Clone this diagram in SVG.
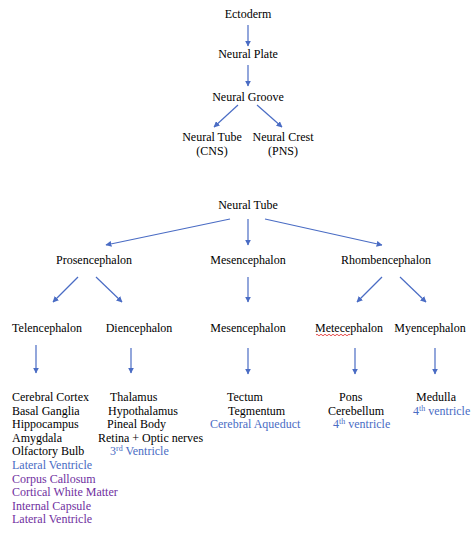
<svg xmlns="http://www.w3.org/2000/svg" width="474" height="535" viewBox="0 0 474 535">
<style>
text{font-family:"Liberation Serif","Times New Roman",serif;font-size:12px;fill:#000}
.c{text-anchor:middle}
.b{fill:#4a6cc4}
.p{fill:#7030a0}
.ar line{stroke:#4a6cc4;stroke-width:1.2;marker-end:url(#ah)}
</style>
<defs>
<marker id="ah" viewBox="0 0 10 10" refX="9" refY="5" markerWidth="6" markerHeight="6" orient="auto" markerUnits="userSpaceOnUse">
<path d="M0,0 L10,5 L0,10 z" fill="#4a6cc4"/>
</marker>
</defs>
<rect width="474" height="535" fill="#fff"/>
<g id="connectors" class="ar">
<line x1="248" y1="25" x2="248" y2="46"/>
<line x1="248" y1="65" x2="248" y2="86"/>
<line x1="238" y1="105" x2="214" y2="127"/>
<line x1="257" y1="105" x2="282" y2="127"/>
<line x1="230" y1="219" x2="106" y2="245"/>
<line x1="248" y1="219" x2="248" y2="245"/>
<line x1="265" y1="219" x2="382" y2="245"/>
<line x1="78" y1="277" x2="53" y2="302"/>
<line x1="96" y1="277" x2="122" y2="302"/>
<line x1="248" y1="277" x2="248" y2="302"/>
<line x1="382" y1="277" x2="357" y2="302"/>
<line x1="400" y1="277" x2="426" y2="302"/>
<line x1="36" y1="345" x2="36" y2="373"/>
<line x1="131" y1="348" x2="131" y2="373"/>
<line x1="248" y1="348" x2="248" y2="374"/>
<line x1="355" y1="348" x2="355" y2="374"/>
<line x1="435" y1="348" x2="435" y2="374"/>
</g>
<g id="ectoderm"><text class="c" x="248" y="18">Ectoderm</text></g>
<g id="neural-plate"><text class="c" x="248" y="58">Neural Plate</text></g>
<g id="neural-groove"><text class="c" x="248" y="101">Neural Groove</text></g>
<g id="neural-tube-cns"><text class="c" x="212" y="141">Neural Tube</text><text class="c" x="212" y="155">(CNS)</text></g>
<g id="neural-crest"><text class="c" x="283" y="141">Neural Crest</text><text class="c" x="283" y="155">(PNS)</text></g>
<g id="neural-tube"><text class="c" x="248" y="209">Neural Tube</text></g>
<g id="prosencephalon"><text class="c" x="94" y="264">Prosencephalon</text></g>
<g id="mesencephalon-1"><text class="c" x="248" y="264">Mesencephalon</text></g>
<g id="rhombencephalon"><text class="c" x="386" y="264">Rhombencephalon</text></g>
<g id="telencephalon"><text class="c" x="47" y="332">Telencephalon</text></g>
<g id="diencephalon"><text class="c" x="139" y="332">Diencephalon</text></g>
<g id="mesencephalon-2"><text class="c" x="248" y="332">Mesencephalon</text></g>
<g id="metecephalon"><text class="c" x="349" y="332">Metecephalon</text>
<path d="M316,335 q1,-1.5 2,0 t2,0 t2,0 t2,0 t2,0 t2,0 t2,0 t2,0 t2,0 t2,0 t2,0 t2,0 t2,0 t2,0 t2,0 t2,0 t2,0" fill="none" stroke="#e02020" stroke-width="0.8"/></g>
<g id="myencephalon"><text class="c" x="430" y="332">Myencephalon</text></g>
<g id="telencephalon-list">
<text x="12" y="401">Cerebral Cortex</text>
<text x="12" y="415">Basal Ganglia</text>
<text x="12" y="428">Hippocampus</text>
<text x="12" y="442">Amygdala</text>
<text x="12" y="455">Olfactory Bulb</text>
<text class="b" x="12" y="469">Lateral Ventricle</text>
<text class="p" x="12" y="483">Corpus Callosum</text>
<text class="p" x="12" y="496">Cortical White Matter</text>
<text class="p" x="12" y="510">Internal Capsule</text>
<text class="p" x="12" y="523">Lateral Ventricle</text>
</g>
<g id="diencephalon-list">
<text x="110" y="401">Thalamus</text>
<text x="108" y="415">Hypothalamus</text>
<text x="107" y="428">Pineal Body</text>
<text x="98" y="442">Retina + Optic nerves</text>
<text class="b" x="110" y="455">3<tspan font-size="8" dy="-4">rd</tspan><tspan dy="4"> Ventricle</tspan></text>
</g>
<g id="mesencephalon-list">
<text x="227" y="401">Tectum</text>
<text x="228" y="415">Tegmentum</text>
<text class="b" x="210" y="428">Cerebral Aqueduct</text>
</g>
<g id="metecephalon-list">
<text x="339" y="401">Pons</text>
<text x="328" y="415">Cerebellum</text>
<text class="b" x="333" y="428">4<tspan font-size="8" dy="-4">th</tspan><tspan dy="4"> ventricle</tspan></text>
</g>
<g id="myencephalon-list">
<text x="416" y="401">Medulla</text>
<text class="b" x="413" y="415">4<tspan font-size="8" dy="-4">th</tspan><tspan dy="4"> ventricle</tspan></text>
</g>
</svg>
